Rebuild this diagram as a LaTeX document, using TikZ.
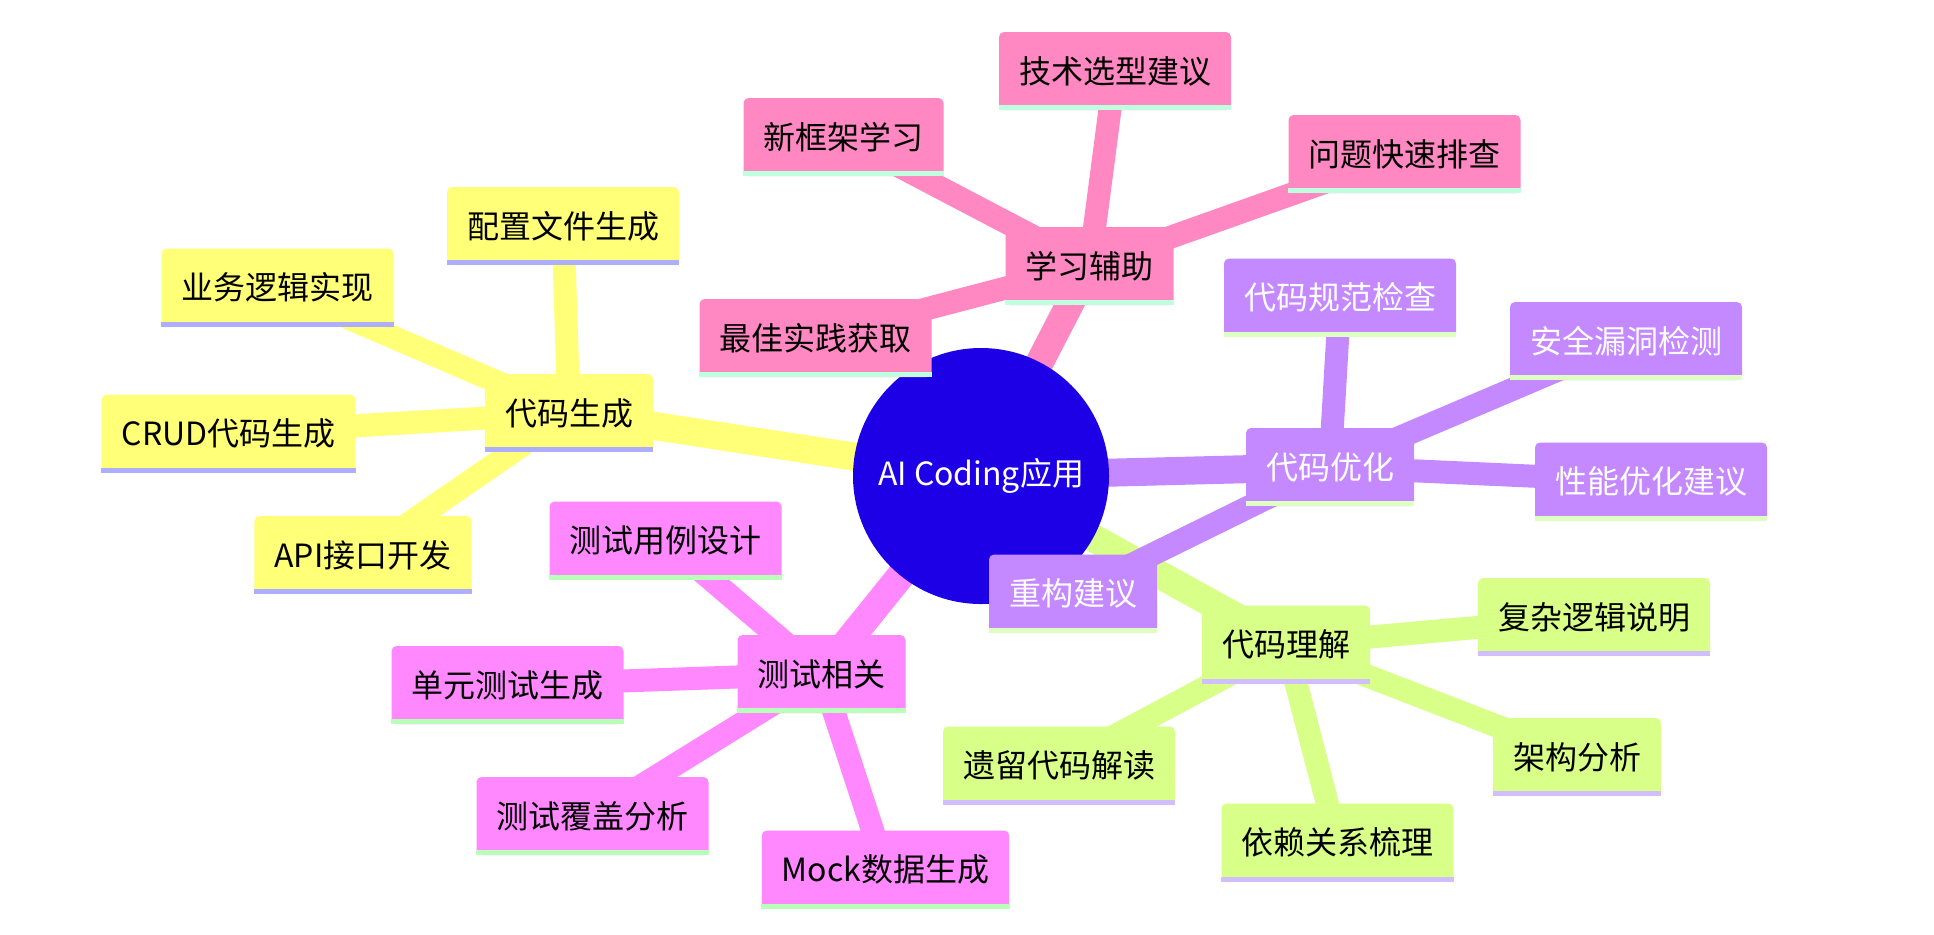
\documentclass[tikz,border=0pt]{standalone}
\usepackage{fontspec}
\newfontfamily\cjk{Noto Sans CJK SC}
\usetikzlibrary{backgrounds}
\definecolor{rootblue}{HTML}{1E00E6}
\definecolor{genfill}{HTML}{FFFF78}
\definecolor{genline}{HTML}{AEAEFF}
\definecolor{learnfill}{HTML}{FF88C2}
\definecolor{learnline}{HTML}{BEFFE0}
\definecolor{optfill}{HTML}{C488FF}
\definecolor{optline}{HTML}{DDFFC2}
\definecolor{testfill}{HTML}{FF88FF}
\definecolor{testline}{HTML}{B8FFB8}
\definecolor{readfill}{HTML}{D8FF88}
\definecolor{readline}{HTML}{D0BEFF}
\tikzset{
  mmbox/.style 2 args={fill=#1, text=black, rounded corners=2.5pt, minimum height=39pt, inner xsep=10pt,
    font=\cjk\fontsize{16pt}{19pt}\selectfont,
    append after command={([yshift=1.25pt]\tikzlastnode.south west) edge[draw=#2, line width=2.5pt, line cap=butt] ([yshift=1.25pt]\tikzlastnode.south east)}},
  mmroot/.style={circle, fill=rootblue, text=white, minimum size=128pt, inner sep=0pt, font=\cjk\fontsize{16pt}{19pt}\selectfont},
  rootedge/.style={line width=14pt, line cap=butt},
  leafedge/.style={line width=11.5pt, line cap=butt}
}
\begin{document}
\begin{tikzpicture}[x=0.5pt,y=-0.5pt]
\useasboundingbox (0,0) rectangle (1934,934);
\node[mmroot] (root) at (981,476) {AI Coding应用};
\node[mmbox={genfill}{genline}] (gen) at (569,413) {代码生成};
\node[mmbox={genfill}{genline}] (genCfg) at (563,226) {配置文件生成};
\node[mmbox={genfill}{genline}] (genBiz) at (277.5,287.5) {业务逻辑实现};
\node[mmbox={genfill}{genline}] (genCrud) at (228.5,433.5) {CRUD代码生成};
\node[mmbox={genfill}{genline}] (genApi) at (363,555) {API接口开发};
\node[mmbox={learnfill}{learnline}] (learn) at (1089.5,266) {学习辅助};
\node[mmbox={learnfill}{learnline}] (learnNew) at (843.5,137) {新框架学习};
\node[mmbox={learnfill}{learnline}] (learnTech) at (1115,71) {技术选型建议};
\node[mmbox={learnfill}{learnline}] (learnBug) at (1404.5,154) {问题快速排查};
\node[mmbox={learnfill}{learnline}] (learnBest) at (815.5,338) {最佳实践获取};
\node[mmbox={optfill}{optline}, text=white] (opt) at (1330,467) {代码优化};
\node[mmbox={optfill}{optline}, text=white] (optStd) at (1340,297.5) {代码规范检查};
\node[mmbox={optfill}{optline}, text=white] (optSec) at (1626,341) {安全漏洞检测};
\node[mmbox={optfill}{optline}, text=white] (optPerf) at (1651,481.5) {性能优化建议};
\node[mmbox={optfill}{optline}, text=white] (optRef) at (1073,593.5) {重构建议};
\node[mmbox={testfill}{testline}] (test) at (821.5,674) {测试相关};
\node[mmbox={testfill}{testline}] (testCase) at (665.5,540.5) {测试用例设计};
\node[mmbox={testfill}{testline}] (testUnit) at (507.5,685) {单元测试生成};
\node[mmbox={testfill}{testline}] (testCov) at (592.5,816) {测试覆盖分析};
\node[mmbox={testfill}{testline}] (testMock) at (885.5,869.5) {Mock数据生成};
\node[mmbox={readfill}{readline}] (read) at (1286,644.5) {代码理解};
\node[mmbox={readfill}{readline}] (readLogic) at (1594,617) {复杂逻辑说明};
\node[mmbox={readfill}{readline}] (readArch) at (1577,757) {架构分析};
\node[mmbox={readfill}{readline}] (readDep) at (1337.5,842.5) {依赖关系梳理};
\node[mmbox={readfill}{readline}] (readLegacy) at (1059,765.5) {遗留代码解读};
\begin{scope}[on background layer]
\fill[white] (0,0) rectangle (1934,934);
\draw[rootedge, genfill] (root.center) -- (gen.center);
\draw[rootedge, learnfill] (root.center) -- (learn.center);
\draw[rootedge, optfill] (root.center) -- (opt.center);
\draw[rootedge, testfill] (root.center) -- (test.center);
\draw[rootedge, readfill] (root.center) -- (read.center);
\foreach \leaf in {genCfg,genBiz,genCrud,genApi} \draw[leafedge, genfill] (gen.center) -- (\leaf.center);
\foreach \leaf in {learnNew,learnTech,learnBug,learnBest} \draw[leafedge, learnfill] (learn.center) -- (\leaf.center);
\foreach \leaf in {optStd,optSec,optPerf,optRef} \draw[leafedge, optfill] (opt.center) -- (\leaf.center);
\foreach \leaf in {testCase,testUnit,testCov,testMock} \draw[leafedge, testfill] (test.center) -- (\leaf.center);
\foreach \leaf in {readLogic,readArch,readDep,readLegacy} \draw[leafedge, readfill] (read.center) -- (\leaf.center);
\end{scope}
\end{tikzpicture}
\end{document}
